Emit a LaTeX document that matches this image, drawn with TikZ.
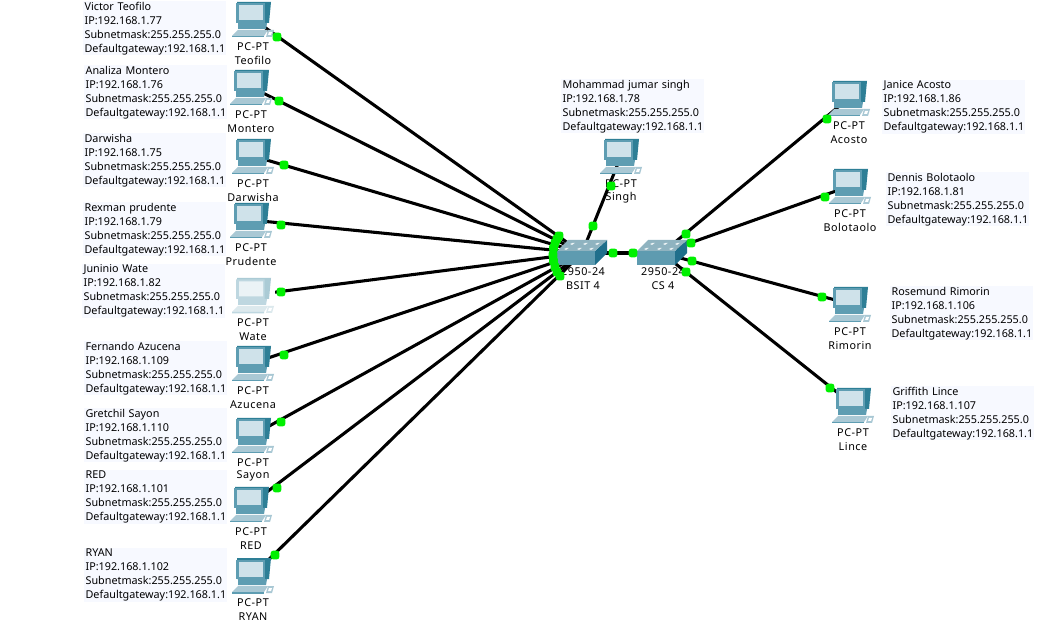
\documentclass[tikz,border=0pt]{standalone}
\usepackage{fontspec}
\setmainfont{Noto Sans}
\definecolor{infobg}{HTML}{F7F9FF}
\definecolor{pcdark}{HTML}{2E7F96}
\definecolor{pcmid}{HTML}{5E9DB2}
\definecolor{pcscreen}{HTML}{CFE2EA}
\definecolor{pclight}{HTML}{A9C8D4}
\definecolor{swtop}{HTML}{8FB3C0}
\definecolor{swfront}{HTML}{5E9BB0}
\definecolor{swside}{HTML}{1F6F8B}
\definecolor{lightgreen}{HTML}{00F000}
\newcommand{\txt}{\fontsize{8.1}{10.5}\selectfont}
\newcommand{\devtxt}{\fontsize{8.1}{10.5}\selectfont\addfontfeature{LetterSpace=5}}
\tikzset{
  x=0.75pt,y=-0.75pt,
  info/.style={anchor=north west,fill=infobg,inner xsep=1pt,inner ysep=0.4pt,text width=105pt,align=left,font=\txt},
  lab/.style={inner sep=0pt,font=\devtxt},
  hub/.style={coordinate},
  link/.style={draw=black,line width=2.3pt},
  light/.style={fill=lightgreen,inner sep=0pt,minimum size=6.4pt,rounded corners=1.7pt},
  pc/.pic={
    \fill[pcdark] (-16,-17)--(18,-17)--(16,4)--(-16,4)--cycle;
    \fill[pcmid] (-17,-15.5)--(11.5,-15.5)--(11.5,4)--(-17,4)--cycle;
    \fill[pcscreen] (-14,-13.5)--(10,-13.5)--(10,1.5)--(-14,1.5)--cycle;
    \fill[pcmid] (-15,4)--(14,4)--(13,10)--(-15,10)--cycle;
    \fill[pclight] (-15,11)--(15,11)--(11,17)--(-21,17)--cycle;
    \fill[pcmid] (-21,17)--(11,17)--(11,18.5)--(-21,18.5)--cycle;
    \fill[pclight] (15,11)--(21,11)--(19,18)--(13,18)--cycle;
    \fill[white] (16,13)--(19,13)--(18,16)--(15,16)--cycle;
  },
  swicon/.pic={
    \fill[swfront] (-25,-2)--(13,-2)--(13,12)--(-25,12)--cycle;
    \fill[swside] (13,-2)--(25,-13)--(25,0)--(13,12)--cycle;
    \fill[swtop] (-25,-2)--(-14,-13)--(25,-13)--(13,-2)--cycle;
    \foreach \a/\b in {-16/-4,-3/-4,9/-4,-10/-9,3/-9,15/-9}
      \fill[white!85!swtop] (\a-2,\b)--(\a+1,\b-1.2)--(\a+3,\b-1.2)--(\a,\b+1)--cycle;
  }
}
\begin{document}
\begin{tikzpicture}
\useasboundingbox (0,0) rectangle (1043,634);
\fill[white] (0,0) rectangle (1043,634);

% info boxes
\foreach \n/\x/\y/\a/\b in {
 Teofilo/83/1/Victor Teofilo/77,
 Montero/84/65/Analiza Montero/76,
 Darwisha/83/133/Darwisha/75,
 Prudente/83/202/Rexman prudente/79,
 Wate/82/264/Juninio Wate/82,
 Azucena/84/341/Fernando Azucena/109,
 Sayon/84/408/Gretchil Sayon/110,
 RED/84/470/RED/101,
 RYAN/84/548/RYAN/102,
 Singh/561/79/Mohammad jumar singh/78,
 Acosto/882/80/Janice Acosto/86,
 Bolotaolo/886/172/Dennis Bolotaolo/81,
 Rimorin/890/286/Rosemund Rimorin/106,
 Lince/891/386/Griffith Lince/107}
 \node[info] (info\n) at (\x,\y) {\a\\IP:192.168.1.\b\\Subnetmask:255.255.255.0\\Defaultgateway:192.168.1.1};

% device hubs
\foreach \n/\x/\y in {
 Teofilo/253/19, Montero/251/87, Darwisha/253/156, Prudente/251/220, Wate/253/295,
 Azucena/253/363, Sayon/253/435, RED/251/504, RYAN/253/575, Singh/621/156,
 Acosto/849/98, Bolotaolo/850/186, Rimorin/850/304, Lince/853/405}
 \node[hub] (\n) at (\x,\y) {};
\node[hub] (bsit) at (582,253) {};
\node[hub] (cs) at (662,253) {};

% device labels
\foreach \n/\m in {Teofilo/Teofilo, Montero/Montero, Darwisha/Darwisha, Prudente/Prudente, Wate/Wate,
 Azucena/Azucena, Sayon/Sayon, RED/RED, RYAN/RYAN, Singh/Singh, Acosto/Acosto, Bolotaolo/Bolotaolo,
 Rimorin/Rimorin, Lince/Lince}{
 \node[lab] (pt\n) at ([yshift=-20.5pt]\n) {PC-PT};
 \node[lab] (nm\n) at ([yshift=-31pt]\n) {\m};
}
\node[lab] (ptB) at (583,272) {2950-24};
\node[lab] (nmB) at (583,286) {BSIT 4};
\node[lab] (ptC) at (663,272) {2950-24};
\node[lab] (nmC) at (663,286) {CS 4};

% connectors
\foreach \n in {Teofilo,Montero,Darwisha,Prudente,Wate,Azucena,Sayon,RED,RYAN,Singh}
 \draw[link] (\n) -- (bsit);
\foreach \n in {Acosto,Bolotaolo,Rimorin,Lince}
 \draw[link] (\n) -- (cs);
\draw[link] (bsit) -- (cs);

% icons
\foreach \n in {Teofilo,Montero,Darwisha,Prudente,Azucena,Sayon,RED,RYAN,Singh,Acosto,Bolotaolo,Rimorin,Lince}
 \pic at (\n) {pc};
\fill[white] ([shift={(-22,-18)}]Wate) rectangle ([shift={(22,19)}]Wate);
\begin{scope}[opacity=0.4,transparency group]
 \pic at (Wate) {pc};
\end{scope}
\pic at (bsit) {swicon};
\pic at (cs) {swicon};

% link lights
\foreach \n/\x/\y in {
 a/277/37, b/279/101, c/284/165, d/281/225, e/281/292, f/284/355, g/281/422, h/277/488, i/275/555,
 j/611/186, k/827/119, l/825/197, m/822/297, n/830/388,
 o/593/226, p/613/253, q/633/253, r/686/234, s/691/243, t/692/261, u/686/272,
 v/559/236, w/557/239, x/555/243, y/553.5/248, z/553/255, A/553.5/261, B/555/267, C/557/272, D/560/276}
 \node[light] (lt\n) at (\x,\y) {};
\end{tikzpicture}
\end{document}
